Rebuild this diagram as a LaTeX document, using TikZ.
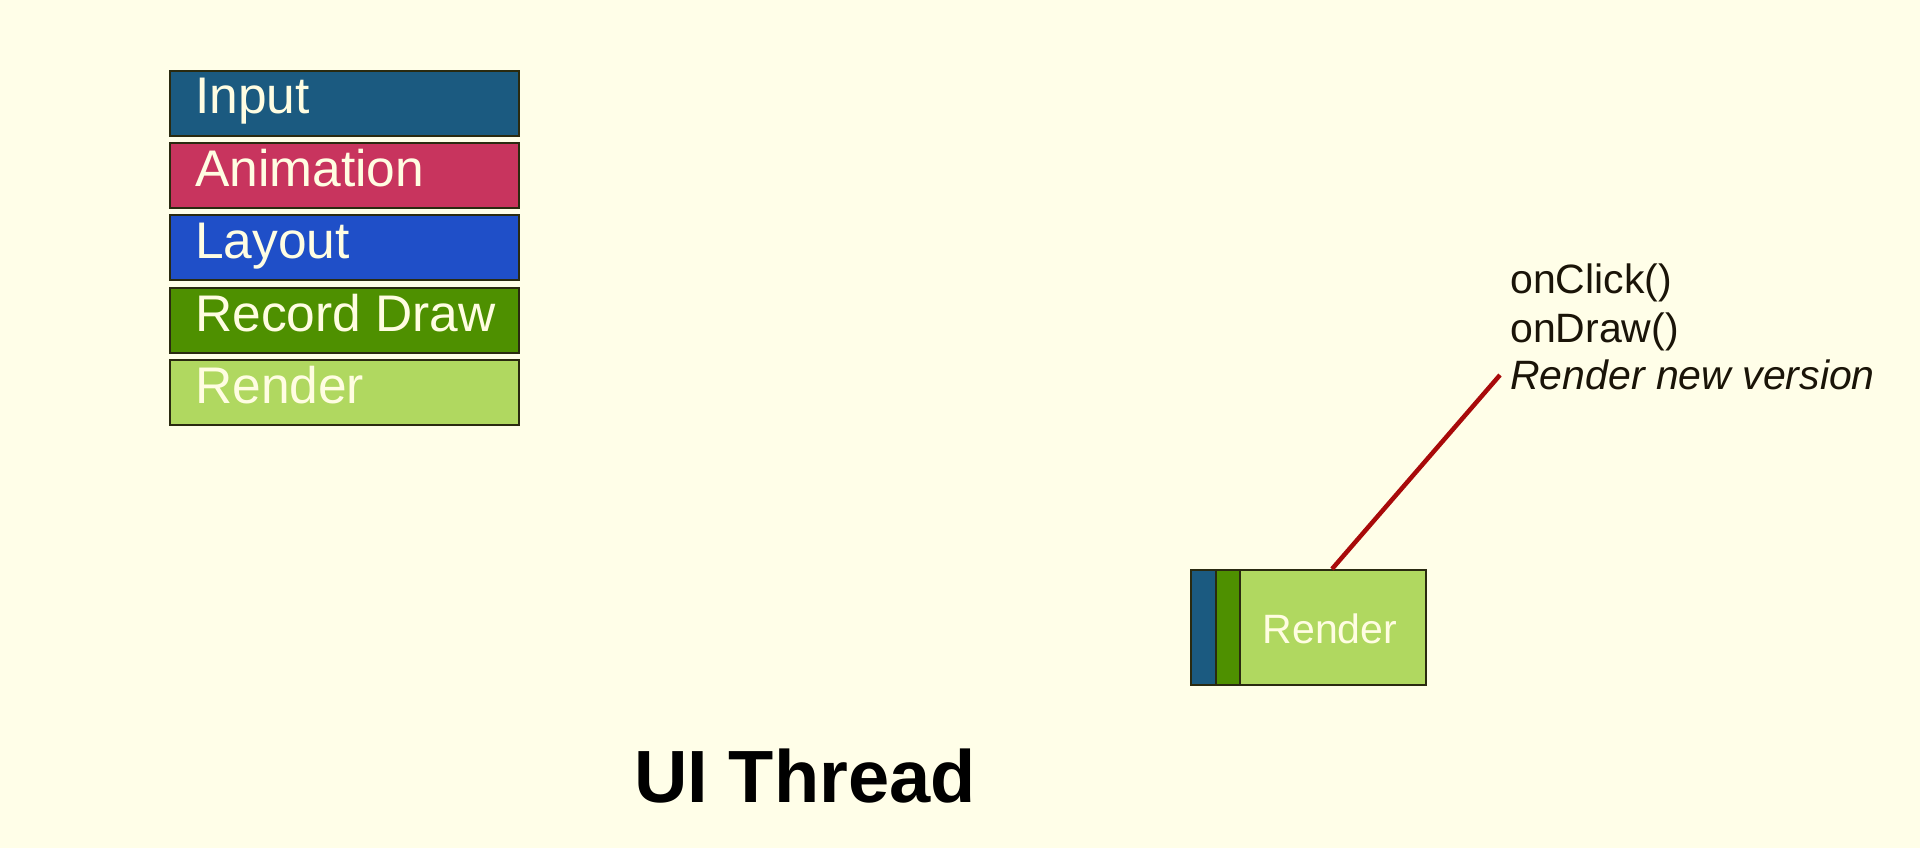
\documentclass[tikz,border=0pt]{standalone}
\usepackage{fontspec}
\setmainfont{Liberation Sans}
\definecolor{bg}{HTML}{FFFEE8}
\definecolor{cinput}{HTML}{1B5A80}
\definecolor{canim}{HTML}{C8345E}
\definecolor{clayout}{HTML}{1F4FC8}
\definecolor{crecord}{HTML}{4E9000}
\definecolor{crender}{HTML}{B0D860}
\definecolor{ctext}{HTML}{FFFDE2}
\definecolor{cborder}{HTML}{2A2A10}
\definecolor{cline}{HTML}{A80A0A}
\definecolor{cdark}{HTML}{1A1408}
\begin{document}
\begin{tikzpicture}[x=1pt,y=-1pt,
  legbox/.style={draw=cborder, line width=2pt, anchor=north west, minimum width=349pt, minimum height=65pt, inner sep=0pt},
  legtext/.style={anchor=base west, text=ctext, inner sep=0pt, font=\fontsize{51.5}{60}\selectfont},
  seg/.style={draw=cborder, line width=2pt, anchor=north west, minimum height=115pt, inner sep=0pt},
  note/.style={anchor=base west, text=cdark, inner sep=0pt, font=\fontsize{41}{48}\selectfont},
  conn/.style={draw=cline, line width=4.5pt}]
\fill[bg] (0,0) rectangle (1920,848);
\useasboundingbox (0,0) rectangle (1920,848);
% legend
\node[legbox, fill=cinput]  (b1) at (169,70) {};
\node[legbox, fill=canim]   (b2) at (169,142) {};
\node[legbox, fill=clayout] (b3) at (169,214) {};
\node[legbox, fill=crecord] (b4) at (169,287) {};
\node[legbox, fill=crender] (b5) at (169,359) {};
\node[legtext] (t1) at (195,114) {Input};
\node[legtext] (t2) at (195,186) {Animation};
\node[legtext] (t3) at (195,258) {Layout};
\node[legtext] (t4) at (195,331) {Record Draw};
\node[legtext] (t5) at (195,403) {Render};
% frame block
\node[seg, fill=crender, minimum width=235pt] (rbox) at (1190,569) {};
\node[seg, fill=cinput, minimum width=25pt] (sblue) at (1190,569) {};
\node[seg, fill=crecord, minimum width=24pt] (sgreen) at (1215,569) {};
\node[anchor=base, text=ctext, inner sep=0pt, font=\fontsize{41}{48}\selectfont] (rtext) at (1330,643) {Render};
% annotations
\node[note] (n1) at (1510,293) {onClick()};
\node[note] (n2) at (1510,342) {onDraw()};
\node[note, font=\fontsize{41}{48}\selectfont\itshape] (n3) at (1510,389) {Render new version};
\coordinate (lend) at (1500,375);
\draw[conn] ([xshift=142pt]rbox.north west) -- (lend);
% title
\node[anchor=base, text=black, inner sep=0pt, font=\fontsize{74}{88}\selectfont\bfseries] (title) at (805,802) {UI Thread};
\end{tikzpicture}
\end{document}
